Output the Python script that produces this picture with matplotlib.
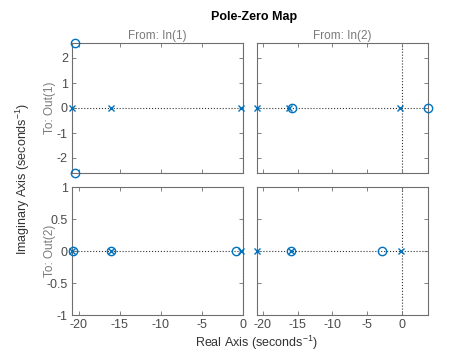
import matplotlib
matplotlib.use("Agg")
import matplotlib.pyplot as plt
import numpy as np

plt.rcParams['font.family'] = ['Liberation Sans', 'DejaVu Sans']
plt.rcParams['mathtext.fontset'] = 'custom'
plt.rcParams['mathtext.rm'] = 'Liberation Sans'

# Data: poles and zeros for each I/O pair (real part, imag part)
poles_11_re = [-20.8, -16.0, -0.2]
poles_11_im = [0, 0, 0]
zeros_11_re = [-20.4, -20.4]
zeros_11_im = [2.6, -2.6]

poles_12_re = [-20.86, -16.2, -0.3]
poles_12_im = [0, 0, 0]
zeros_12_re = [-15.8, 3.74]
zeros_12_im = [0, 0]

poles_21_re = [-20.8, -16.0, -0.2]
poles_21_im = [0, 0, 0]
zeros_21_re = [-20.7, -16.0, -0.9]
zeros_21_im = [0, 0, 0]

poles_22_re = [-20.86, -16.0, -0.2]
poles_22_im = [0, 0, 0]
zeros_22_re = [-15.9, -2.9]
zeros_22_im = [0, 0]

col_titles = ["From: In(1)", "From: In(2)"]
row_titles = ["To: Out(1)", "To: Out(2)"]
xticks = [-20, -15, -10, -5, 0]
xticklabels = ['-20', '-15', '-10', '-5', '0']
yticks_top = [-2, -1, 0, 1, 2]
yticklabels_top = ['-2', '-1', '0', '1', '2']
yticks_bot = [-1, -0.5, 0, 0.5, 1]
yticklabels_bot = ['-1', '-0.5', '0', '0.5', '1']
xlims = [(-20.8, 0.0), (-20.86, 3.74)]
ylims = [(-2.6, 2.6), (-1, 1)]

W, H = 474, 355
fig = plt.figure(figsize=(W / 100, H / 100), dpi=100)

blue = (0, 0.447, 0.741)
spine_c = '#6e6e6e'
text_c = '#4a4a4a'
label_c = '#7a7a7a'

cols_px = [(72, 243), (257, 428)]
rows_px = [(43, 173), (187, 315)]

data = {
    (0, 0): (poles_11_re, poles_11_im, zeros_11_re, zeros_11_im),
    (0, 1): (poles_12_re, poles_12_im, zeros_12_re, zeros_12_im),
    (1, 0): (poles_21_re, poles_21_im, zeros_21_re, zeros_21_im),
    (1, 1): (poles_22_re, poles_22_im, zeros_22_re, zeros_22_im),
}

for r in range(2):
    for c in range(2):
        x0, x1 = cols_px[c]
        y0, y1 = rows_px[r]
        ax = fig.add_axes([x0 / W, 1 - y1 / H, (x1 - x0) / W, (y1 - y0) / H])
        pr, pi, zr, zi = data[(r, c)]
        ax.axhline(0, color='#333333', ls=':', lw=0.8, zorder=1)
        ax.axvline(0, color='#333333', ls=':', lw=0.8, zorder=1)
        ax.plot(pr, pi, 'x', color=blue, ms=5, mew=1.0, ls='none', zorder=3, clip_on=False)
        ax.plot(zr, zi, 'o', mfc='none', mec=blue, ms=6, mew=1.0, ls='none', zorder=3, clip_on=False)
        ax.set_xlim(*xlims[c])
        ax.set_ylim(*ylims[r])
        ax.set_xticks(xticks)
        if r == 0:
            ax.set_yticks(yticks_top)
            ax.set_yticklabels(yticklabels_top if c == 0 else [])
            ax.set_xticklabels([])
        else:
            ax.set_yticks(yticks_bot)
            ax.set_yticklabels(yticklabels_bot if c == 0 else [])
            ax.set_xticklabels(xticklabels)
        ax.tick_params(direction='in', length=3, width=0.6, colors=spine_c,
                       labelcolor=text_c, labelsize=9, top=True, right=True)
        ax.tick_params(axis='x', pad=3)
        ax.tick_params(axis='y', pad=3)
        for s in ax.spines.values():
            s.set_color(spine_c)
            s.set_linewidth(0.8)
        if r == 0:
            ax.set_title(col_titles[c], fontsize=8.5, color=label_c, pad=3)

for r in range(2):
    y0, y1 = rows_px[r]
    fig.text(50 / W, 1 - (y0 + y1) / 2 / H, row_titles[r], ha='center', va='center',
             rotation=90, fontsize=8.5, color=label_c)

fig.text(254 / W, 1 - 17 / H, "Pole-Zero Map", ha='center', va='center',
         fontsize=9, fontweight='bold', color='black')
fig.text(23 / W, 1 - 179 / H, "Imaginary Axis (seconds$^{\\mathrm{-1}}$)", ha='center', va='center',
         rotation=90, fontsize=9, color='#333333')
fig.text(256 / W, 1 - 347 / H, "Real Axis (seconds$^{\\mathrm{-1}}$)", ha='center', va='baseline',
         fontsize=9, color='#333333')

fig.savefig("out.png", dpi=100, facecolor='white')
